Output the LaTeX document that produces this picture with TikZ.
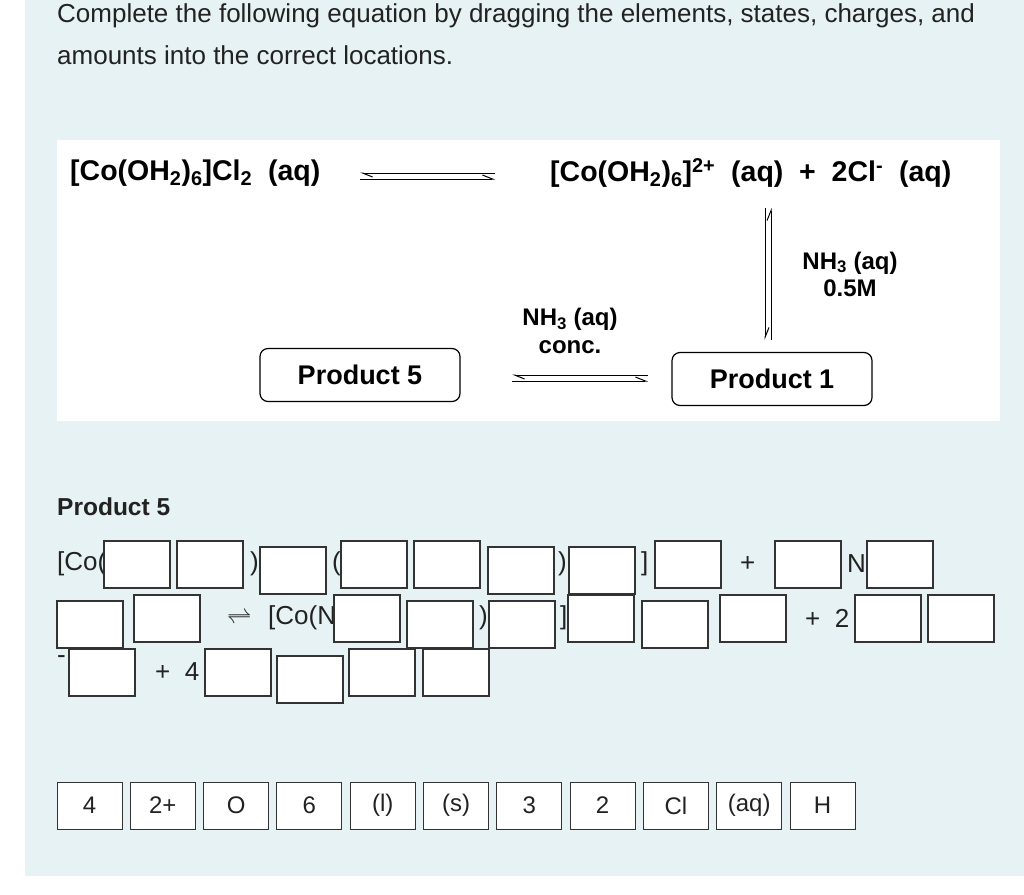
\documentclass[tikz,border=0pt]{standalone}
\usepackage{fontspec}
\setmainfont{Liberation Sans}
\usetikzlibrary{arrows.meta}
\definecolor{pagebg}{HTML}{E6F2F4}
\definecolor{txt}{HTML}{222222}
\begin{document}
\begin{tikzpicture}[x=1pt,y=-1pt,
  body/.style={inner sep=0pt,anchor=west,text=txt,font=\fontsize{26}{30}\selectfont},
  chem/.style={inner sep=0pt,text=black,font=\fontsize{28.5}{32}\selectfont\bfseries},
  slot/.style={draw=black!80,line width=1.2pt,fill=white},
  tile/.style={draw=black!80,line width=1pt,fill=white,minimum width=65pt,minimum height=47pt,inner sep=0pt,font=\fontsize{24}{28}\selectfont,text=txt},
  prod/.style={chem,font=\fontsize{27}{32}\selectfont\bfseries,draw,line width=1.2pt,rounded corners=8pt,minimum width=200pt,minimum height=53pt},
  harp/.style={line width=1pt}]
\useasboundingbox (0,0) rectangle (1024,894);
\fill[pagebg] (25,0) rectangle (1024,876);
% question
\node[body] (q1) at (57,16) {Complete the following equation by dragging the elements, states, charges, and};
\node[body] (q2) at (57,55) {amounts into the correct locations.};
% scheme panel
\fill[white] (57,140) rectangle (1000,421);
\node[chem,anchor=west] (lhs) at (70,173) {[Co(OH\textsubscript{2})\textsubscript{6}]Cl\textsubscript{2}\ \ (aq)};
\node[chem,anchor=west] (rhs) at (550,173) {[Co(OH\textsubscript{2})\textsubscript{6}]\textsuperscript{2+}\ \ (aq)\ \ +\ \ 2Cl\textsuperscript{-}\ \ (aq)};
\coordinate (a1) at (360,176); \coordinate (a2) at (495,176);
\draw[harp,-{Straight Barb[left,length=10pt,width=8pt]}] ([yshift=-3]a1) -- ([yshift=-3]a2);
\draw[harp,-{Straight Barb[left,length=10pt,width=8pt]}] ([yshift=3]a2) -- ([yshift=3]a1);
\node[prod] (p5) at (360,375) {Product 5};
\node[prod] (p1) at (772,379) {Product 1};
\coordinate (v1) at (768,208); \coordinate (v2) at (768,340);
\draw[harp,-{Straight Barb[left,length=10pt,width=8pt]}] ([xshift=3]v2) -- ([xshift=3]v1);
\draw[harp,-{Straight Barb[left,length=10pt,width=8pt]}] ([xshift=-3]v1) -- ([xshift=-3]v2);
\node[chem,align=center,font=\fontsize{24}{27}\selectfont\bfseries] (c1) at (850,274) {NH\textsubscript{3} (aq)\\0.5M};
\coordinate (h1) at (512,378); \coordinate (h2) at (648,378);
\draw[harp,-{Straight Barb[left,length=10pt,width=8pt]}] ([yshift=-3]h1) -- ([yshift=-3]h2);
\draw[harp,-{Straight Barb[left,length=10pt,width=8pt]}] ([yshift=3]h2) -- ([yshift=3]h1);
\node[chem,align=center,font=\fontsize{24}{28}\selectfont\bfseries] (c2) at (570,331) {NH\textsubscript{3} (aq)\\conc.};
% answer area
\node[body,font=\fontsize{24.5}{28}\selectfont\bfseries] (lab) at (57,507) {Product 5};
\node[body] (t1) at (57,564) {[Co(};
\node[body] (t2) at (250,564) {)};
\node[body] (t3) at (332,564) {(};
\node[body] (t4) at (558,564) {)};
\node[body] (t5) at (641,564) {]};
\node[body] (t6) at (740,564) {+};
\node[body] (t7) at (847,564) {N};
\node[body] (t8) at (227,618) {$\rightleftharpoons$};
\node[body] (t9) at (268,618) {[Co(N};
\node[body] (t10) at (479,618) {)};
\node[body] (t11) at (560,618) {]};
\node[body] (t12) at (805,618) {+\ \ 2};
\node[body] (t13) at (57,660) {-};
\node[body] (t14) at (155,672) {+\ \ 4};
\foreach \x/\y [count=\i] in {104/541,177/541,260/547,341/541,414/541,488/547,569/547,655/541,775/541,867/541,
  57/601,134/595,334/595,407/601,489/601,568/595,642/601,720/595,855/595,928/595,
  69/649,205/649,277/656,349/649,423/649}
  \draw[slot] (\x,\y) rectangle ++(66,47) coordinate (s\i);
% draggable tiles
\foreach \t [count=\i] in {4,2+,O,6,(l),(s),3,2,Cl,(aq),H}
  \node[tile] (k\i) at ({89.5+73.3*(\i-1)},805.5) {\t};
\end{tikzpicture}
\end{document}
